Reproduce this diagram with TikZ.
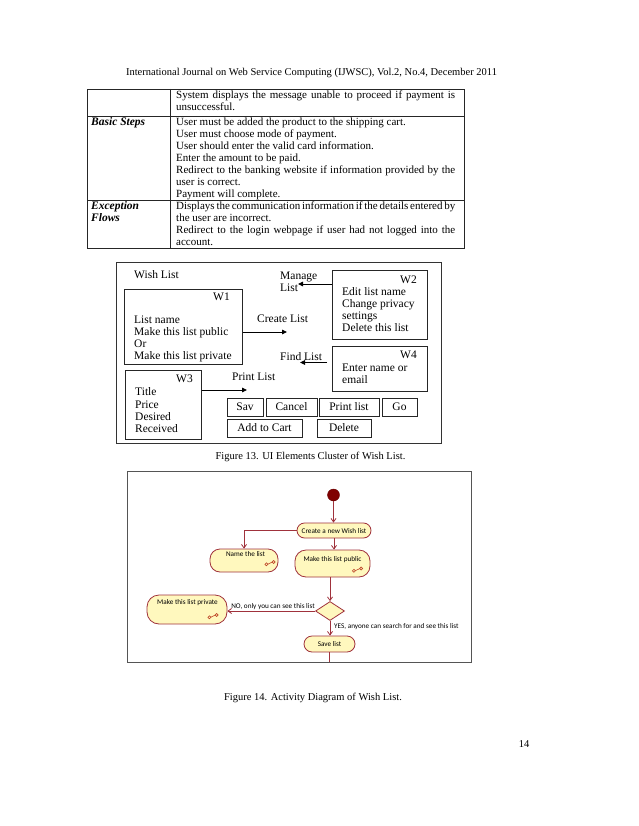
\documentclass[tikz,border=0pt]{standalone}
\usepackage{fontspec}
\setmainfont{Liberation Serif}
\newfontfamily\actfont{Carlito}
\usetikzlibrary{arrows.meta,shapes.geometric}
\definecolor{actred}{RGB}{160,50,60}
\definecolor{actfill}{RGB}{255,248,190}
\definecolor{startred}{RGB}{128,0,0}
\definecolor{iconc}{RGB}{190,70,40}
\definecolor{framegray}{RGB}{85,85,85}
\begin{document}
\begin{tikzpicture}[x=1pt,y=-1pt,
  pg/.style={inner sep=0pt, font=\fontsize{10.5}{12}\selectfont},
  tt/.style={inner sep=0pt, font=\fontsize{11}{12}\selectfont, anchor=base west},
  tth/.style={inner sep=0pt, font=\fontsize{11.5}{12}\selectfont\bfseries\itshape, anchor=base west},
  tbl/.style={line width=0.8pt, draw=black!85},
  ft/.style={inner sep=0pt, font=\fontsize{11.5}{12}\selectfont, anchor=base west},
  ftr/.style={inner sep=0pt, font=\fontsize{11.5}{12}\selectfont, anchor=base east},
  wbox/.style={draw=black!85, line width=0.9pt, inner sep=0pt, anchor=north west},
  btn/.style={draw=black!85, line width=0.9pt, inner sep=0pt, font=\fontsize{11.5}{12}\selectfont},
  arr/.style={line width=0.9pt, -{Triangle[length=5pt,width=4.5pt]}},
  act/.style={draw=actred, fill=actfill, line width=0.8pt, inner sep=0pt},
  atext/.style={inner sep=0pt, font=\actfont\fontsize{7.2}{8}\selectfont},
  aline/.style={draw=actred, line width=0.8pt},
  aarr/.style={aline, -{Straight Barb[length=3.5pt,width=5pt]}},
  rake/.pic={
    \draw[iconc, line width=0.6pt] (-3.6,1.3) circle (1.5pt);
    \draw[iconc, line width=0.6pt] (3.6,-1.0) circle (1.5pt);
    \draw[iconc, line width=0.6pt] (-2.1,1.1) -- (2.1,-0.8);
  }
]
\useasboundingbox[fill=white] (0,0) rectangle (638,826);

% header
\node[pg, anchor=base] (header) at (311.5,75.5) {International Journal on Web Service Computing (IJWSC), Vol.2, No.4, December 2011};

% table
\draw[tbl] (87,89) rectangle (464,248.5);
\draw[tbl] (170,89) -- (170,248.5);
\draw[tbl] (87,116) -- (464,116);
\draw[tbl] (87,200) -- (464,200);

\node[tt] (r1) at (176,98.5) {\makebox[279pt][s]{System displays the message unable to proceed if payment is}};
\node[tt] (r2) at (176,110.5) {unsuccessful.};
\node[tth] (bs) at (91,125.5) {Basic Steps};
\node[tt] (r3) at (176,125.5) {User must be added the product to the shipping cart.};
\node[tt] (r4) at (176,137.5) {User must choose mode of payment.};
\node[tt] (r5) at (176,149.5) {User should enter the valid card information.};
\node[tt] (r6) at (176,161.5) {Enter the amount to be paid.};
\node[tt] (r7) at (176,173.5) {\makebox[279pt][s]{Redirect to the banking website if information provided by the}};
\node[tt] (r8) at (176,185.5) {user is correct.};
\node[tt] (r9) at (176,197.3) {Payment will complete.};
\node[tth] (ex1) at (91,209.5) {Exception};
\node[tth] (ex2) at (91,221.5) {Flows};
\node[tt] (r10) at (176,209.5) {\makebox[279pt][s]{Displays the communication information if the details entered by}};
\node[tt] (r11) at (176,221.5) {the user are incorrect.};
\node[tt] (r12) at (176,233.5) {\makebox[279pt][s]{Redirect to the login webpage if user had not logged into the}};
\node[tt] (r13) at (176,245.3) {account.};

% Figure 13
\draw[line width=1pt, draw=black!80] (116,262) rectangle (441,443);
\node[ft] (wl) at (134,278) {Wish List};
\node[ft] (mg1) at (280,279) {Manage};
\node[ft] (mg2) at (280,291) {List};

\node[wbox, minimum width=95pt, minimum height=69pt] (w2) at (332,270) {};
\node[ftr] (w2t) at (417,283) {W2};
\node[ft] (w2a) at (342,295.5) {Edit list name};
\node[ft] (w2b) at (342,307.5) {Change privacy};
\node[ft] (w2c) at (342,319.5) {settings};
\node[ft] (w2d) at (342,331.5) {Delete this list};

\node[wbox, minimum width=118pt, minimum height=75pt] (w1) at (124,289) {};
\node[ftr] (w1t) at (230,300) {W1};
\node[ft] (w1a) at (134,323.5) {List name};
\node[ft] (w1b) at (134,335.5) {Make this list public};
\node[ft] (w1c) at (134,347.5) {Or};
\node[ft] (w1d) at (134,359.5) {Make this list private};

\node[ft] (cl) at (257,322.5) {Create List};
\node[ft] (fl) at (280,360) {Find List};

\node[wbox, minimum width=95pt, minimum height=45pt] (w4) at (332,346) {};
\node[ftr] (w4t) at (417,358.5) {W4};
\node[ft] (w4a) at (342,371.5) {Enter name or};
\node[ft] (w4b) at (342,383.5) {email};

\node[wbox, minimum width=76pt, minimum height=69pt] (w3) at (125,370) {};
\node[ftr] (w3t) at (193,382.5) {W3};
\node[ft] (w3a) at (135,395.5) {Title};
\node[ft] (w3b) at (135,408) {Price};
\node[ft] (w3c) at (135,420.5) {Desired};
\node[ft] (w3d) at (135,432.5) {Received};

\node[ft] (pl) at (232,380) {Print List};

\node[btn, minimum width=36pt, minimum height=18pt] (sav) at (245,407) {Sav};
\node[btn, minimum width=51pt, minimum height=18pt] (cancel) at (291.5,407) {Cancel};
\node[btn, minimum width=60pt, minimum height=18pt] (printl) at (349,407) {Print list};
\node[btn, minimum width=35pt, minimum height=18pt] (go) at (399.5,407) {Go};
\node[btn, minimum width=75pt, minimum height=18pt] (addc) at (264.5,428) {Add to Cart};
\node[btn, minimum width=54pt, minimum height=18pt] (del) at (344,428) {Delete};

\coordinate (mgtip) at (298,284);
\draw[arr] (w2.west |- mgtip) -- (mgtip);
\coordinate (cltip) at (287,332);
\draw[arr] (w1.east |- cltip) -- (cltip);
\coordinate (fltip) at (300,362.5);
\draw[arr, shorten <=5pt] (w4.west |- fltip) -- (fltip);
\coordinate (pltip) at (247,390);
\draw[arr] (w3.east |- pltip) -- (pltip);

\node[pg, anchor=base] (cap13) at (310.5,459.5) {Figure 13. UI Elements Cluster of Wish List.};

% Figure 14
\node[circle, fill=startred, draw=startred!80!black, minimum size=12pt, inner sep=0pt] (start) at (333.5,495) {};
\node[act, rounded corners=7.5pt, minimum width=74pt, minimum height=15pt] (create) at (334,530.5) {};
\node[atext] (createT) at (334,531) {Create a new Wish list};
\node[act, rounded corners=10pt, minimum width=68pt, minimum height=23pt] (name) at (244,560.5) {};
\node[atext] (nameT) at (245.5,554.5) {Name the list};
\node[act, rounded corners=11pt, minimum width=75pt, minimum height=27pt] (public) at (332.5,563.5) {};
\node[atext] (publicT) at (332.5,559.5) {Make this list public};
\node[act, rounded corners=12pt, minimum width=80pt, minimum height=29pt] (private) at (187,609.5) {};
\node[atext] (privateT) at (187.5,603) {Make this list private};
\node[act, rounded corners=8pt, minimum width=51pt, minimum height=16pt] (save) at (329.5,644) {};
\node[atext] (saveT) at (329.5,644.5) {Save list};
\node[act, diamond, minimum width=29pt, minimum height=19pt] (dia) at (330,611) {};

\pic at (270,563) {rake};
\pic at (357.5,569.5) {rake};
\pic at (213,616) {rake};

\draw[aarr] (start.south) -- (start.south |- create.north);
\draw[aarr] (create.west) -| (name.north);
\draw[aarr] (create.south) -- (create.south |- public.north);
\draw[aarr] (public.south -| dia.north) -- (dia.north);
\draw[aarr] (dia.west) -- (dia.west -| private.east);
\node[atext] (nolbl) at (273,606.5) {NO, only you can see this list};
\draw[aarr] (dia.south) -- (dia.south |- save.north);
\node[atext, anchor=west] (yeslbl) at (334,627) {YES, anyone can search for and see this list};
\coordinate (aend) at (329.5,662);
\draw[aline] (save.south) -- (save.south |- aend);

\draw[line width=1pt, draw=framegray] (127,471) rectangle (471,662);

\node[pg, anchor=base] (cap14) at (313,700.5) {Figure 14. Activity Diagram of Wish List.};

\node[pg, anchor=base] (pgnum) at (524,747) {14};
\end{tikzpicture}
\end{document}
